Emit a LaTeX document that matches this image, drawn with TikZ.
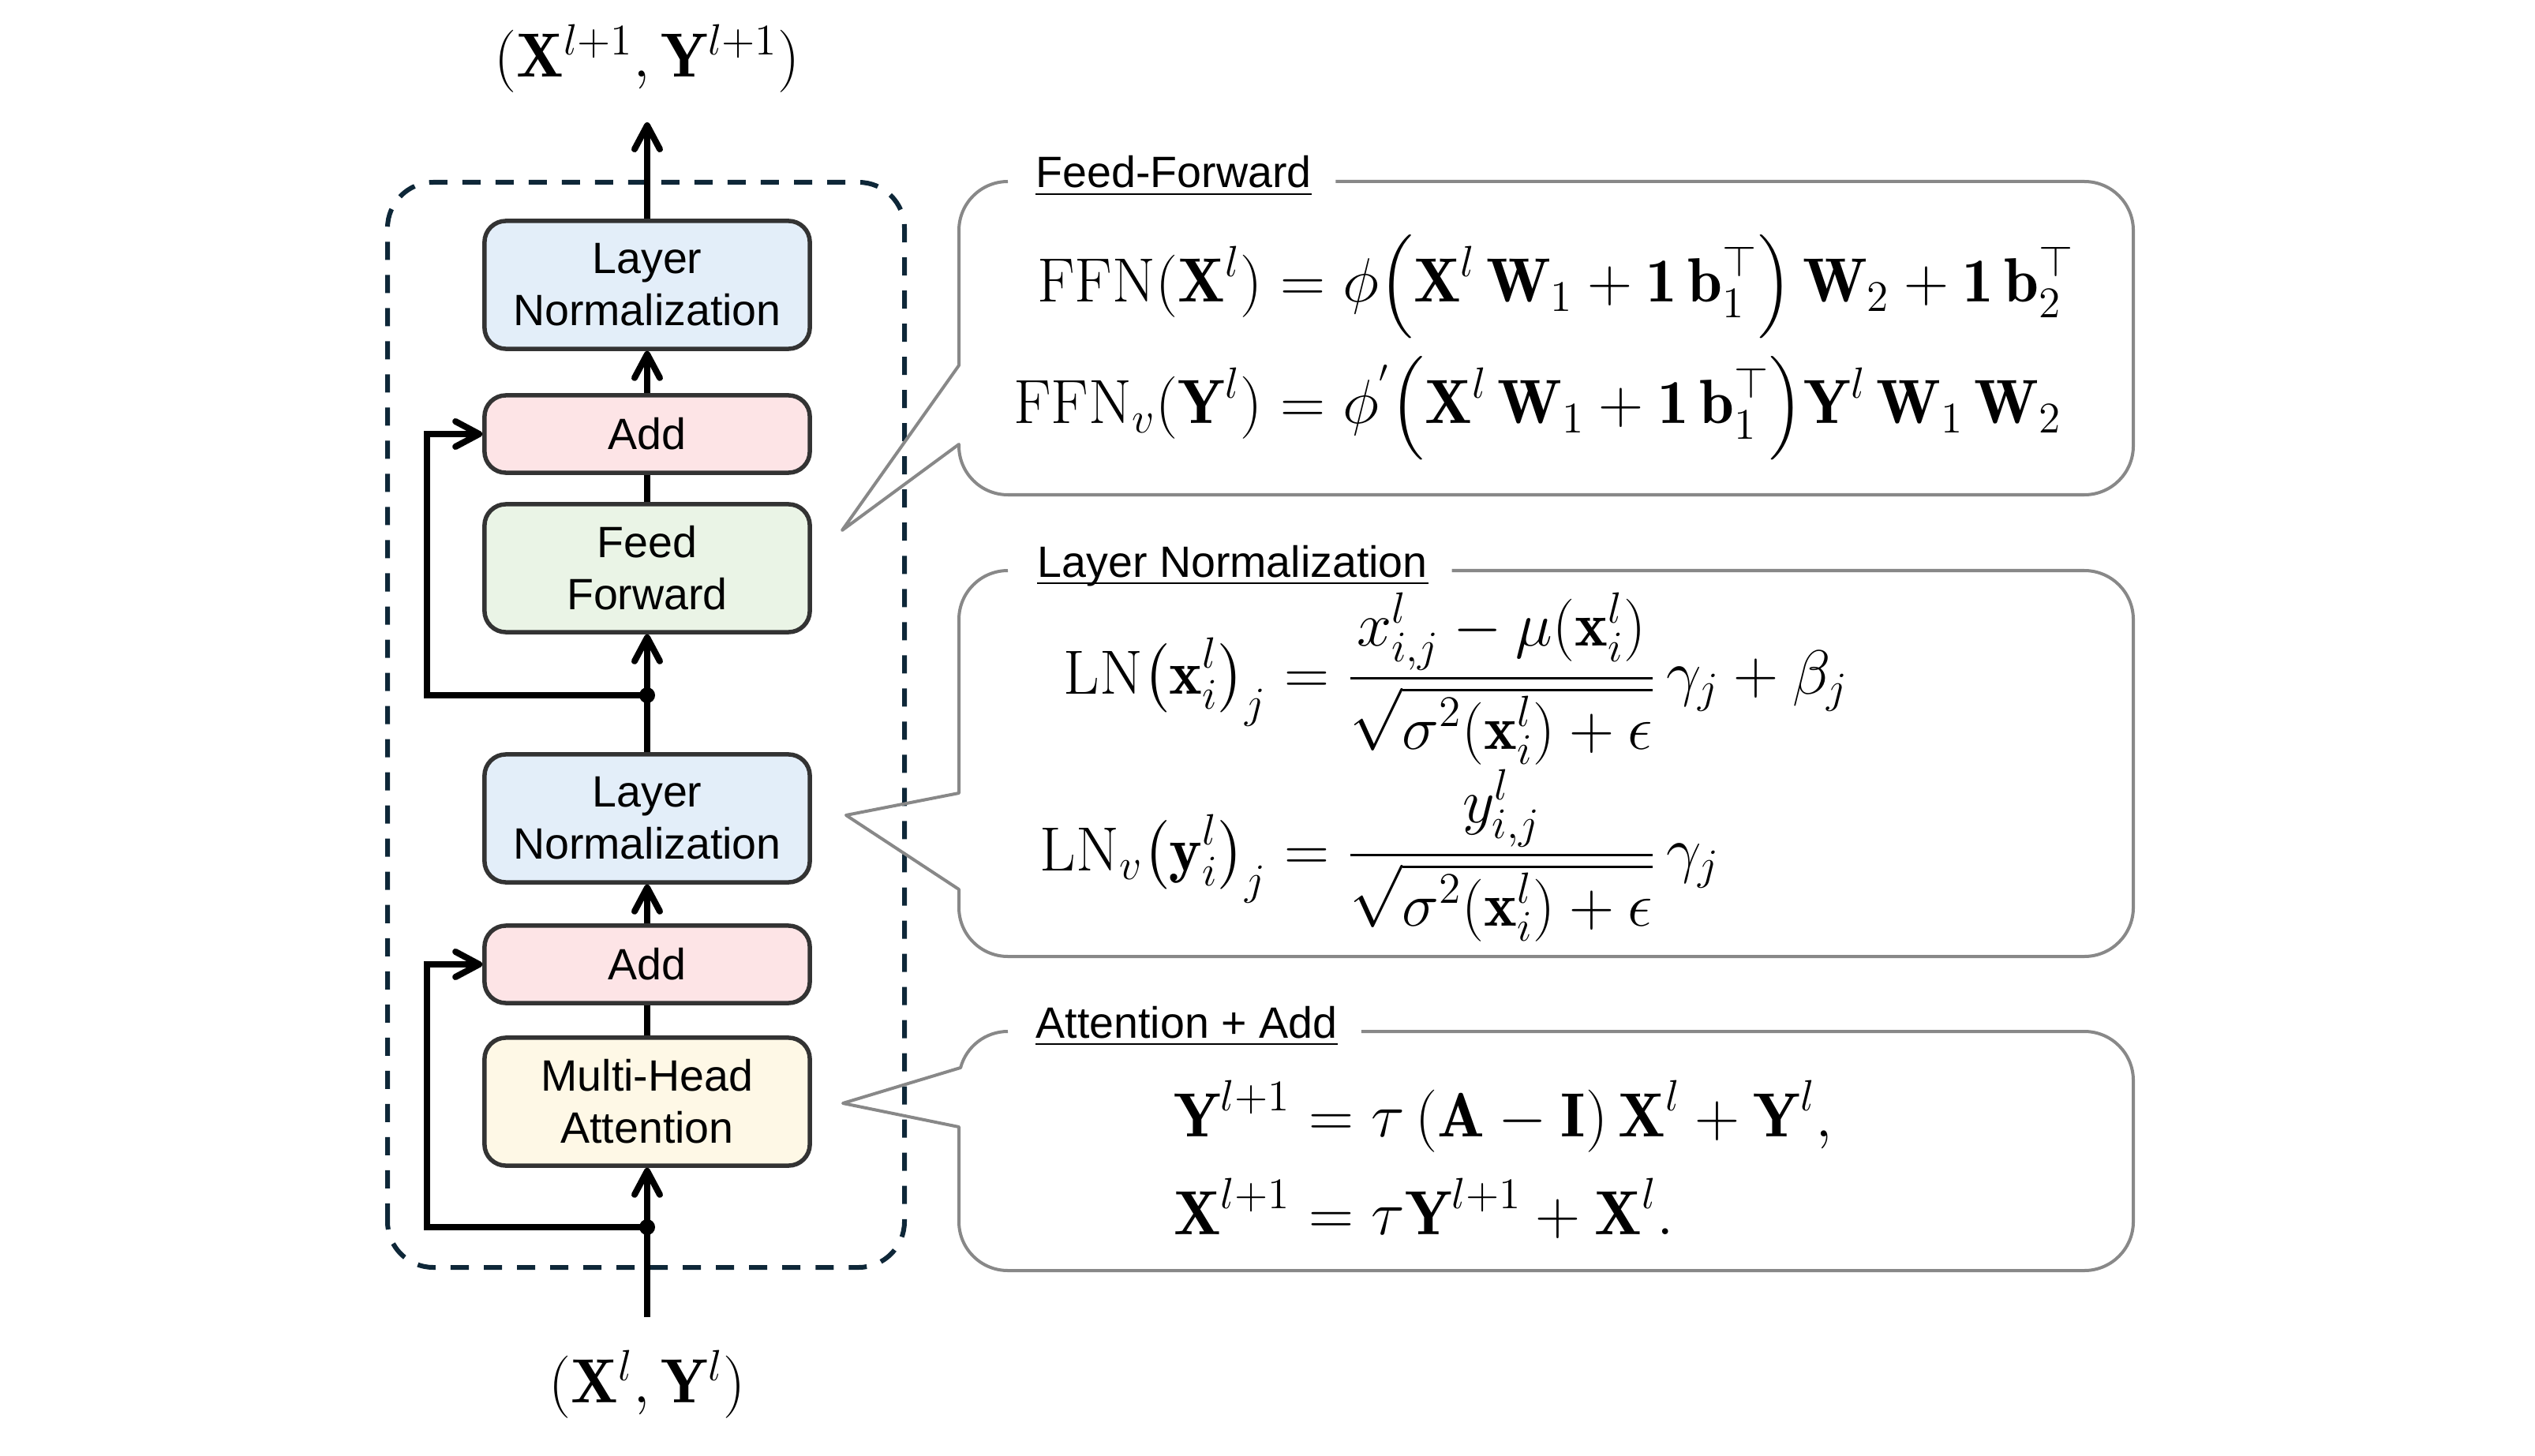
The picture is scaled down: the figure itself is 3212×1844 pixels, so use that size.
\RequirePackage{fix-cm}
\documentclass[tikz,border=0pt]{standalone}
\usepackage{amsmath}
\usepackage{fontspec}
\newfontfamily\sanf{Liberation Sans}
\usetikzlibrary{arrows.meta}
\definecolor{lnfill}{HTML}{E3EEF9}
\definecolor{addfill}{HTML}{FDE4E6}
\definecolor{fffill}{HTML}{EAF4E6}
\definecolor{mhafill}{HTML}{FEF8E6}
\definecolor{bordc}{HTML}{333333}
\definecolor{dashc}{HTML}{0E2738}
\definecolor{calg}{HTML}{888888}
\begin{document}
\begin{tikzpicture}[x=0.01cm,y=0.01cm,
  blk/.style={draw=bordc, line width=0.055cm, rounded corners=0.27cm, minimum width=4.12cm, align=center, font={\sanf\fontsize{15.8}{18.8}\selectfont}, inner sep=0pt},
  two/.style={blk, minimum height=1.62cm},
  one/.style={blk, minimum height=0.98cm},
  conn/.style={line width=0.08cm, black},
  arr/.style={conn, -{Straight Barb[length=0.3cm,width=0.32cm,round]}},
  callout/.style={draw=calg, line width=0.04cm, line join=round},
  ttl/.style={font={\sanf\fontsize{15.8}{18.8}\selectfont}, inner sep=0pt, anchor=base west},
  uline/.style={line width=0.025cm, black},
  mth/.style={font={\fontsize{22.5}{27}\selectfont}, inner sep=0pt},
]
\useasboundingbox (0,0) rectangle (3212,1844);

% dashed frame
\draw[dashc, line width=0.06cm, dash pattern=on 0.23cm off 0.19cm, rounded corners=0.58cm] (491,238) rectangle (1146,1613);

% blocks
\node[two, fill=lnfill]  (lnT)  at (820,1483) {Layer\\Normalization};
\node[one, fill=addfill] (addT) at (820,1294) {Add};
\node[two, fill=fffill]  (ff)   at (820,1124) {Feed\\Forward};
\node[two, fill=lnfill]  (lnB)  at (820,807)  {Layer\\Normalization};
\node[one, fill=addfill] (addB) at (820,622)  {Add};
\node[two, fill=mhafill] (mha)  at (820,448)  {Multi-Head\\Attention};

% labels
\node[mth] (outl) at (820,1770) {$(\mathbf{X}^{l+1},\mathbf{Y}^{l+1})$};
\node[mth] (inl)  at (820,90)   {$(\mathbf{X}^{l},\mathbf{Y}^{l})$};
\coordinate (outtip) at (820,1689);
\coordinate (inbot)  at (820,175);
\coordinate (dotB) at (820,289);
\coordinate (skB)  at (541,289);
\coordinate (dotT) at (820,963);
\coordinate (skT)  at (541,963);

% connectors
\draw[arr] (inbot) -- (mha.south);
\draw[conn] (mha.north) -- (addB.south);
\draw[arr] (addB.north) -- (lnB.south);
\draw[arr] (lnB.north) -- (ff.south);
\draw[conn] (ff.north) -- (addT.south);
\draw[arr] (addT.north) -- (lnT.south);
\draw[arr] (lnT.north) -- (outtip);
\draw[arr, line join=miter] (dotB) -- (skB) |- (addB.west);
\draw[arr, line join=miter] (dotT) -- (skT) |- (addT.west);
\fill (dotB) circle[radius=10];
\fill (dotT) circle[radius=10];

% ---------- Feed-Forward callout
\node[ttl] (ffT) at (1312,1606) {Feed-Forward};
\draw[uline] ([yshift=-0.08cm]ffT.base west) -- ([yshift=-0.08cm]ffT.base east);
\coordinate (ffG) at (0,1614);
\draw[callout] ([xshift=0.3cm]ffT.base east |- ffG) -- (2641,1614)
  arc[start angle=90,end angle=0,radius=62] -- (2703,1279)
  arc[start angle=0,end angle=-90,radius=62] -- (1277,1217)
  arc[start angle=-90,end angle=-180,radius=62] -- (1215,1281) -- (1067,1172) -- (1215,1381) -- (1215,1552)
  arc[start angle=180,end angle=90,radius=62];
\node[mth, anchor=base east] (ff1l) at (1600,1461) {$\displaystyle \mathrm{FFN}(\mathbf{X}^l)$};
\node[mth, anchor=base west] (ff1r) at (1600,1461) {$\displaystyle {}= \phi\Big(\mathbf{X}^l\,\mathbf{W}_1 + \mathbf{1}\,\mathbf{b}_1^{\top}\Big)\,\mathbf{W}_2 + \mathbf{1}\,\mathbf{b}_2^{\top}$};
\node[mth, anchor=base east] (ff2l) at (1600,1307) {$\displaystyle \mathrm{FFN}_v(\mathbf{Y}^l)$};
\node[mth, anchor=base west] (ff2r) at (1600,1307) {$\displaystyle {}= \phi^{'}\Big(\mathbf{X}^l\,\mathbf{W}_1 + \mathbf{1}\,\mathbf{b}_1^{\top}\Big)\mathbf{Y}^l\,\mathbf{W}_1\,\mathbf{W}_2$};

% ---------- Layer Normalization callout
\node[ttl] (lnTl) at (1314,1113) {Layer Normalization};
\draw[uline] ([yshift=-0.08cm]lnTl.base west) -- ([yshift=-0.08cm]lnTl.base east);
\coordinate (lnG) at (0,1121);
\draw[callout] ([xshift=0.3cm]lnTl.base east |- lnG) -- (2641,1121)
  arc[start angle=90,end angle=0,radius=62] -- (2703,694)
  arc[start angle=0,end angle=-90,radius=62] -- (1277,632)
  arc[start angle=-90,end angle=-180,radius=62] -- (1215,717) -- (1072,811) -- (1215,839) -- (1215,1059)
  arc[start angle=180,end angle=90,radius=62];
\node[mth, anchor=base east] (ln1l) at (1605,965) {$\displaystyle \mathrm{LN}\bigl(\mathbf{x}_i^l\bigr)_j$};
\node[mth, anchor=base west] (ln1r) at (1605,965) {$\displaystyle {}= \frac{x_{i,j}^l - \mu(\mathbf{x}_i^l)}{\sqrt{\smash[b]{\sigma^2(\mathbf{x}_i^l)+\epsilon}}}\,\gamma_j + \beta_j$};
\node[mth, anchor=base east] (ln2l) at (1605,741) {$\displaystyle \mathrm{LN}_v\bigl(\mathbf{y}_i^l\bigr)_j$};
\node[mth, anchor=base west] (ln2r) at (1605,741) {$\displaystyle {}= \frac{y_{i,j}^l}{\sqrt{\smash[b]{\sigma^2(\mathbf{x}_i^l)+\epsilon}}}\,\gamma_j$};

% ---------- Attention + Add callout
\node[ttl] (atT) at (1312,529) {Attention + Add};
\draw[uline] ([yshift=-0.08cm]atT.base west) -- ([yshift=-0.08cm]atT.base east);
\coordinate (atG) at (0,537);
\draw[callout] ([xshift=0.3cm]atT.base east |- atG) -- (2641,537)
  arc[start angle=90,end angle=0,radius=62] -- (2703,296)
  arc[start angle=0,end angle=-90,radius=62] -- (1277,234)
  arc[start angle=-90,end angle=-180,radius=62] -- (1215,416) -- (1068,446) -- (1217.1,491.05)
  arc[start angle=165,end angle=90,radius=62];
\node[mth, anchor=base east] (at1l) at (1636,404) {$\displaystyle \mathbf{Y}^{l+1}$};
\node[mth, anchor=base west] (at1r) at (1636,404) {$\displaystyle {}= \tau\,(\mathbf{A}-\mathbf{I})\,\mathbf{X}^l + \mathbf{Y}^l,$};
\node[mth, anchor=base east] (at2l) at (1636,280) {$\displaystyle \mathbf{X}^{l+1}$};
\node[mth, anchor=base west] (at2r) at (1636,280) {$\displaystyle {}= \tau\mathbf{Y}^{l+1} + \mathbf{X}^l.$};
\end{tikzpicture}
\end{document}
